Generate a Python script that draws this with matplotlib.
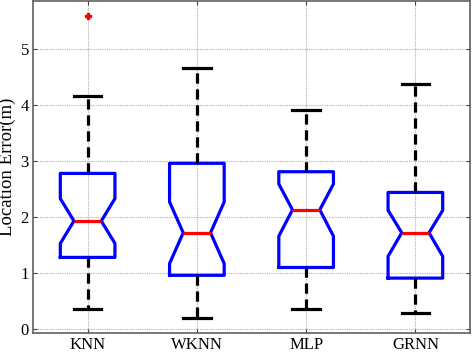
import matplotlib
matplotlib.use("Agg")
import matplotlib.pyplot as plt

# Values (notched boxplot, MATLAB style)
methods = ["KNN", "WKNN", "MLP", "GRNN"]
whisker_low = [0.34, 0.18, 0.34, 0.28]
q1 = [1.27, 0.95, 1.09, 0.90]
medians = [1.92, 1.71, 2.12, 1.71]
q3 = [2.77, 2.95, 2.80, 2.43]
whisker_high = [4.15, 4.65, 3.90, 4.36]
notch_low = [1.52, 1.16, 1.65, 1.29]
notch_high = [2.32, 2.26, 2.58, 2.11]
outliers = [[5.58], [], [], []]

plt.rcParams['font.family'] = ['Liberation Serif', 'DejaVu Serif']

fig = plt.figure(figsize=(4.74, 3.53), dpi=100)
ax = fig.add_axes([0.0696, 0.0567, 0.9220, 0.9391])

stats = []
for i, name in enumerate(methods):
    stats.append({
        'label': name,
        'whislo': whisker_low[i],
        'q1': q1[i],
        'med': medians[i],
        'q3': q3[i],
        'whishi': whisker_high[i],
        'cilo': notch_low[i],
        'cihi': notch_high[i],
        'fliers': outliers[i],
    })

ax.bxp(stats, positions=range(1, len(methods) + 1), widths=0.5, shownotches=True,
       boxprops=dict(color='#0000ff', linewidth=2.3),
       medianprops=dict(color='#ff0000', linewidth=2.3),
       whiskerprops=dict(color='black', linewidth=2.3, linestyle=(0, (3.2, 1.8))),
       capprops=dict(color='black', linewidth=2.3),
       flierprops=dict(marker='P', markersize=5, markerfacecolor='#ff0000',
                       markeredgecolor='#ff0000', linestyle='none'))

ax.set_xlim(0.5, 4.5)
ax.set_ylim(-0.08, 5.84)
ax.set_yticks([0, 1, 2, 3, 4, 5])
ax.set_ylabel('Location Error(m)', fontsize=13.5, labelpad=3)

ax.grid(True, color='#b0b0b0', linestyle=(0, (1, 1)), linewidth=0.8)
ax.set_axisbelow(True)
ax.tick_params(direction='in', top=True, right=True, labelsize=12, length=3,
               color='#404040', pad=3)
for spine in ax.spines.values():
    spine.set_color('#606060')
    spine.set_linewidth(1.2)

fig.savefig('out.png', dpi=100)
